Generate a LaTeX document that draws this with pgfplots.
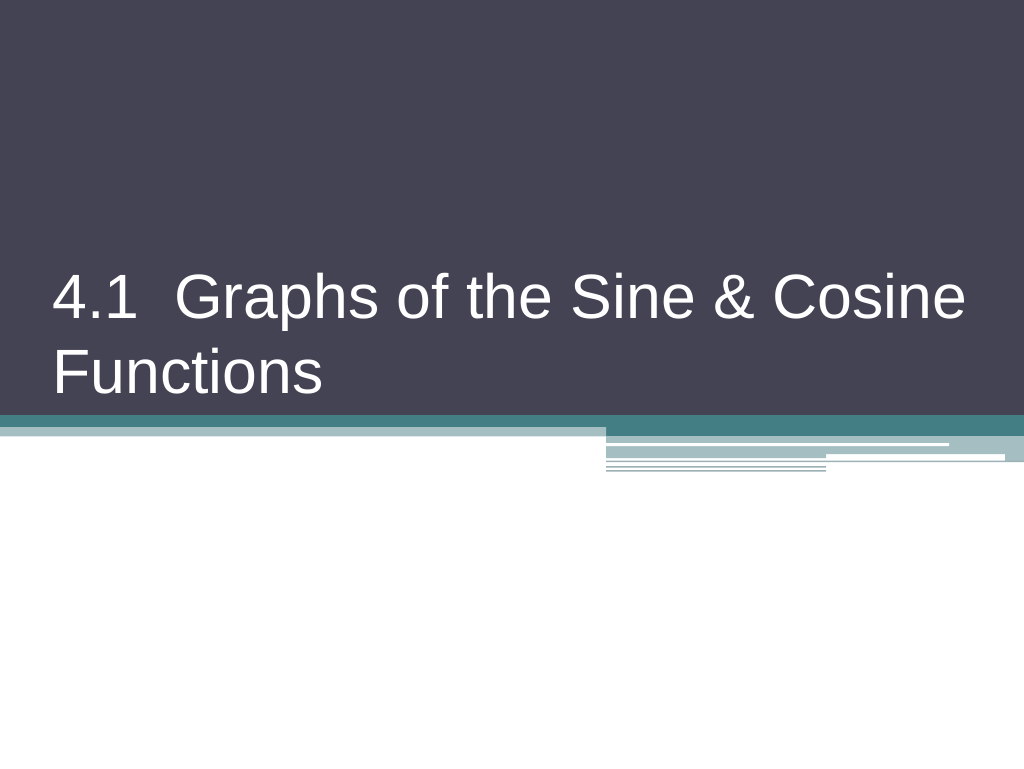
\documentclass[border=0pt]{standalone}
\usepackage{pgfplots}
\pgfplotsset{compat=1.18}
\usepackage{fontspec}
\setmainfont{Liberation Sans}
\definecolor{slate}{HTML}{434354}
\definecolor{teal}{HTML}{437E84}
\definecolor{mist}{HTML}{A5BEC2}
\definecolor{rule}{HTML}{9DB2B6}
\begin{document}
\begin{tikzpicture}
\begin{axis}[
    width=512pt, height=384pt,
    scale only axis,
    xmin=0, xmax=1024, ymin=0, ymax=768,
    y dir=reverse,
    axis lines=none,
    clip=true,
]
% white slide background
\addplot[draw=none, fill=white] coordinates {(0,0) (1024,0) (1024,768) (0,768) (0,0)};
% dark header band
\addplot[draw=none, fill=slate] coordinates {(0,0) (1024,0) (1024,415) (0,415) (0,0)};
% teal band
\addplot[draw=none, fill=teal] coordinates {(0,415) (1024,415) (1024,436) (0,436) (0,415)};
% light strip under the left part
\addplot[draw=none, fill=mist] coordinates {(0,427) (606,427) (606,436) (0,436) (0,427)};
% right block of stripes
\addplot[draw=none, fill=mist] coordinates {(606,436) (1024,436) (1024,454) (606,454) (606,436)};
\addplot[draw=none, fill=mist] coordinates {(606,454) (826,454) (826,458) (606,458) (606,454)};
\addplot[draw=none, fill=mist] coordinates {(1005,454) (1024,454) (1024,461) (1005,461) (1005,454)};
\addplot[draw=none, fill=white] coordinates {(606,443) (949,443) (949,446) (606,446) (606,443)};
\addplot[draw=none, fill=rule] coordinates {(606,460.5) (1024,460.5) (1024,462) (606,462) (606,460.5)};
\addplot[draw=none, fill=rule] coordinates {(606,466) (826,466) (826,467.5) (606,467.5) (606,466)};
\addplot[draw=none, fill=rule] coordinates {(606,470) (826,470) (826,471.5) (606,471.5) (606,470)};
% title (base anchor sits on the last line)
\node[anchor=base west, inner sep=0pt, text=white, align=left,
      font=\fontsize{31.3}{37.5}\selectfont]
  at (axis cs:52,393) {4.1\ \ Graphs of the Sine \& Cosine\\Functions};
\end{axis}
\end{tikzpicture}
\end{document}
